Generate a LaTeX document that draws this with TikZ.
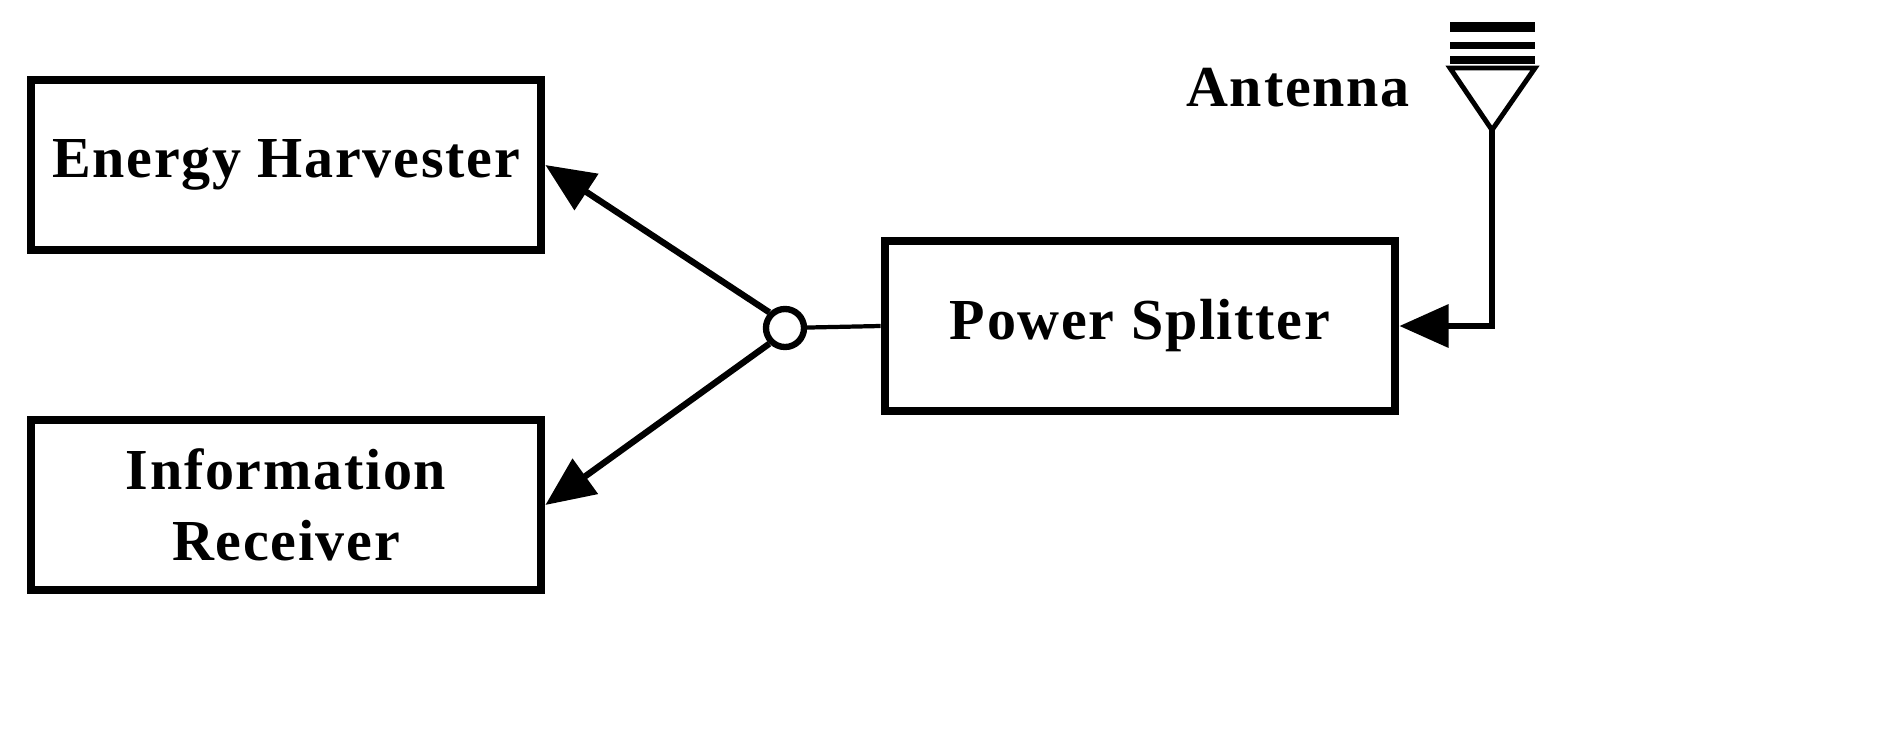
\documentclass[tikz,border=0pt]{standalone}
\usepackage{fontspec}
\setmainfont{Liberation Serif}[LetterSpace=3]
\usetikzlibrary{arrows.meta}
\begin{document}
\begin{tikzpicture}[x=0.01cm,y=-0.01cm,
  blk/.style={draw,line width=2.4pt,minimum width=5.1cm,minimum height=1.7cm,align=center,font=\fontsize{16.5}{20}\selectfont\bfseries,inner sep=0pt},
  conn/.style={line width=1.8pt,-{Triangle[length=14pt,width=12pt]}}]
\useasboundingbox (0,0) rectangle (1884,742);
\node[blk] (eh) at (286,165) {Energy Harvester};
\node[blk] (ir) at (286,505) {Information\\Receiver};
\node[blk] (ps) at (1140,326) {Power Splitter};
\node[draw,circle,line width=1.8pt,minimum size=0.38cm,inner sep=0pt] (sw) at (785,328) {};
\draw[line width=1.2pt] (sw) -- (ps.west);
\draw[conn] (sw.north west) -- (eh.east);
\draw[conn] (sw.south west) -- (ir.east);
\coordinate (apex) at (1492,130);
\coordinate (corner) at (1492,326);
\draw[line width=1.4pt] (1450,68) -- (1535,68) -- (apex) -- cycle;
\fill (1450,56) rectangle (1535,64);
\fill (1450,42) rectangle (1535,49);
\fill (1450,22) rectangle (1535,32);
\draw[conn] (apex) -- (corner) -- (ps.east);
\node[font=\fontsize{16.5}{20}\selectfont\bfseries] (ant) at (1298,88) {Antenna};
\end{tikzpicture}
\end{document}
